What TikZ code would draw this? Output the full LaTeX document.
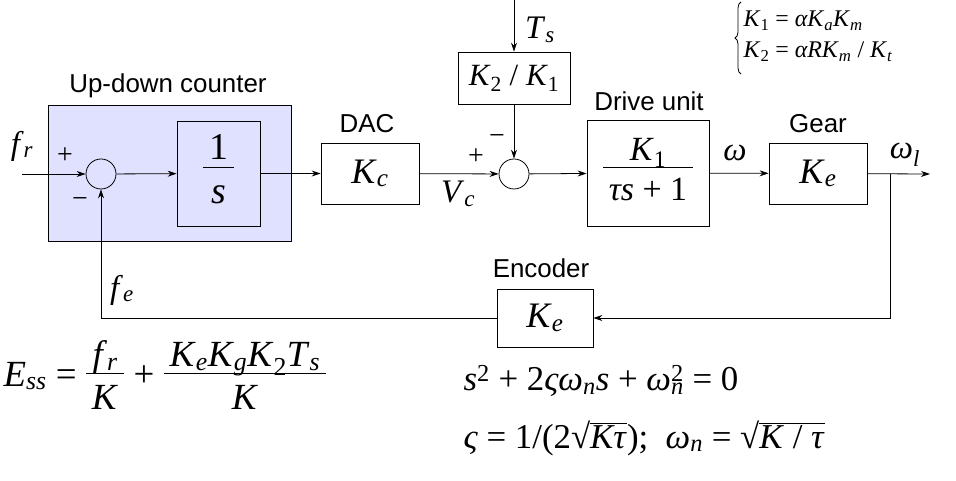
\documentclass[tikz,border=0pt]{standalone}
\usepackage{fontspec}
\setmainfont{Liberation Serif}
\newfontfamily\sans{Liberation Sans}
\usetikzlibrary{arrows.meta,decorations.pathreplacing}
\newcommand{\vi}[1]{\textit{#1}}
\newcommand{\ssb}[1]{\textsubscript{\itshape #1}}
\newcommand{\ssp}[1]{\textsuperscript{#1}}
\newcommand{\frc}[2]{\begin{tabular}{@{\,}c@{\,}}#1\\[-0.15em]\hline\rule{0pt}{0.95em}#2\end{tabular}}
\newcommand{\sqr}[1]{√\vbox{\hrule height 1pt\kern1.5pt\hbox{#1}}}
\begin{document}
\begin{tikzpicture}[x=1bp,y=-1bp,
  blk/.style={draw,line width=0.8pt,inner sep=0pt},
  sum/.style={draw,circle,minimum size=30bp,inner sep=0pt,line width=0.8pt},
  lab/.style={font=\sans\fontsize{26}{28}\selectfont},
  mb/.style={font=\fontsize{36}{40}\selectfont},
  mf/.style={font=\fontsize{34}{38}\selectfont},
  ml/.style={font=\fontsize{33}{36}\selectfont},
  pm/.style={font=\fontsize{28}{30}\selectfont},
  ln/.style={line width=0.8pt,-{Stealth[length=9bp,width=6bp]}}]
\setlength{\arrayrulewidth}{1pt}
\useasboundingbox (0,0) rectangle (956,481);
\draw[fill=blue!12,line width=0.8pt] (48,105) rectangle (291,241);
\node[lab] (udl) at (168,86) {Up-down counter};
\node[sum] (s1) at (101,174) {};
\node[blk,minimum width=83bp,minimum height=105bp,font=\fontsize{38}{42}\selectfont] (int) at (218.5,173.5) {\frc{1}{\vi{s}}};
\node[blk,minimum width=98bp,minimum height=61bp,mb] (dac) at (370,173.5) {\vi{K}\ssb{c}};
\node[lab] (dacl) at (367,124) {DAC};
\node[sum] (s2) at (514,174) {};
\node[blk,minimum width=112bp,minimum height=52bp,font=\fontsize{31}{33}\selectfont] (k21) at (514,78) {\vi{K}\textsubscript{2} / \vi{K}\textsubscript{1}};
\node[blk,minimum width=122bp,minimum height=106bp,mf] (drv) at (648,173) {\frc{\vi{K}\textsubscript{1}}{\vi{τs} + 1}};
\node[lab] (drvl) at (649,101) {Drive unit};
\node[blk,minimum width=98bp,minimum height=61bp,mb] (gear) at (818,173.5) {\vi{K}\ssb{e}};
\node[lab] (gearl) at (818,124) {Gear};
\node[blk,minimum width=96bp,minimum height=58bp,mb] (enc) at (545,318) {\vi{K}\ssb{e}};
\node[lab] (encl) at (541,268) {Encoder};
\coordinate (in) at (22,174);
\coordinate (out) at (930,174);
\coordinate (br) at (890,174);
\coordinate (top) at (514,0);
\node[ml] (fr) at (22,146) {\vi{f}\ssb{r}};
\node[pm] (p1) at (65,156) {+};
\node[pm] (n1) at (80,203) {−};
\node[pm] (p2) at (476,157) {+};
\node[pm] (n2) at (497,140) {−};
\node[ml] (vc) at (458,194) {\vi{V}\ssb{c}};
\node[ml] (ts) at (540,30) {\vi{T}\ssb{s}};
\node[ml] (om) at (735,153) {\vi{ω}};
\node[ml] (oml) at (905,155) {\vi{ω}\ssb{l}};
\node[ml] (fe) at (122,290) {\vi{f}\ssb{e}};
\draw[ln] (in) -- (s1);
\draw[ln] (s1) -- (int);
\draw[ln] (int) -- (dac);
\draw[ln] (dac) -- (s2);
\draw[ln] (top) -- (k21);
\draw[ln] (k21) -- (s2);
\draw[ln] (s2) -- (drv);
\draw[ln] (drv) -- (gear);
\draw[ln] (gear) -- (out);
\draw[ln] (br) |- (enc);
\draw[ln] (enc) -| (s1);
\node[anchor=west,font=\fontsize{24}{31}\selectfont,align=left] (eqk) at (740,36)
 {\vi{K}\textsubscript{1} = \vi{αK}\ssb{a}\vi{K}\ssb{m}\\ \vi{K}\textsubscript{2} = \vi{αRK}\ssb{m} / \vi{K}\ssb{t}};
\draw[decorate,decoration={brace,amplitude=6pt},line width=0.8pt] (741,74) -- (741,2);
\node[anchor=west,font=\fontsize{37}{40}\selectfont] (ess) at (0,380)
 {\vi{E}\ssb{ss} = \frc{\vi{f}\ssb{r}}{\vi{K}} + \frc{\vi{K}\ssb{e}\vi{K}\ssb{g}\vi{K}\textsubscript{2}\vi{T}\ssb{s}}{\vi{K}}};
\node[anchor=west,font=\fontsize{35}{38}\selectfont] (ch) at (460,381)
 {\vi{s}\ssp{2} + 2\vi{ςω}\ssb{n}\vi{s} + \vi{ω}\makebox[0pt][l]{\textsubscript{\itshape n}}\textsuperscript{2} = 0};
\node[anchor=west,font=\fontsize{35}{38}\selectfont] (zt) at (460,438)
 {\vi{ς} = 1/(2\sqr{\vi{Kτ}});\ \ \vi{ω}\ssb{n} = \sqr{\vi{K} / \vi{τ}}};
\end{tikzpicture}
\end{document}
